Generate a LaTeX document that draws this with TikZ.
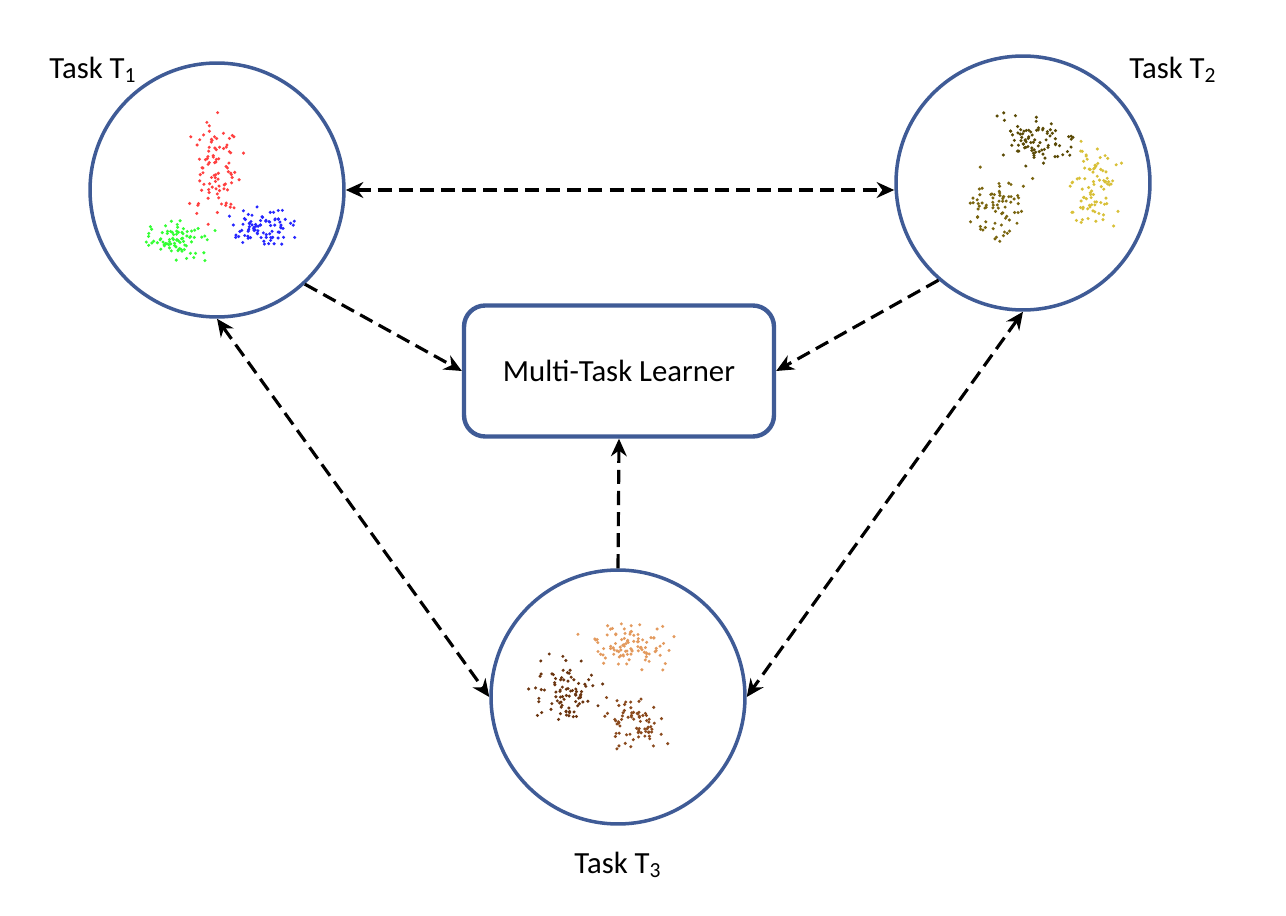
\documentclass[tikz,border=0pt]{standalone}
\usepackage{fontspec}
\setmainfont{Carlito}
\usetikzlibrary{arrows.meta}
\definecolor{cblue}{HTML}{3F5B96}
\definecolor{dolive}{HTML}{5A4A05}
\definecolor{molive}{HTML}{7A6510}
\definecolor{mustard}{HTML}{D8C038}
\definecolor{lorange}{HTML}{E39A5E}
\definecolor{dbrown}{HTML}{6B3510}
\definecolor{mbrown}{HTML}{8A4A1E}
\newcommand\mtlclust[6]{%
  \foreach \i in {1,...,#5}{%
    \pgfmathsetmacro\dx{(rand+rand+rand)*#3*0.6}%
    \pgfmathsetmacro\dy{(rand+rand+rand)*#4*0.6}%
    \fill[#6] ({#1+\dx},{#2+\dy}) circle (1.7);
  }}
\begin{document}
\begin{tikzpicture}[x=0.02cm,y=-0.02cm,
  task/.style={circle,draw=cblue,line width=2pt,minimum size=5.08cm,inner sep=0pt},
  lab/.style={font=\fontsize{17.5}{21}\selectfont},
  con/.style={line width=1.8pt,dash pattern=on 8pt off 4pt,-{Stealth[length=10pt,width=9pt]}},
  bcon/.style={con,{Stealth[length=10pt,width=9pt]}-{Stealth[length=10pt,width=9pt]}}]
\useasboundingbox (0,0) rectangle (1286,916);
\pgfmathsetseed{7}
\node[task] (c1) at (217,190) {};
\node[task] (c2) at (1023,183) {};
\node[task] (c3) at (618,697) {};
\node[draw=cblue,line width=2.5pt,rounded corners=12pt,minimum width=6.2cm,minimum height=2.62cm,lab] (box) at (619,371) {Multi-Task Learner};
\node[lab] (l1) at (93,70) {Task T\textsubscript{1}};
\node[lab] (l2) at (1173,70) {Task T\textsubscript{2}};
\node[lab] (l3) at (618,865) {Task T\textsubscript{3}};
% scatter
\mtlclust{215}{165}{20}{40}{90}{red!75!white}
\mtlclust{180}{238}{26}{16}{80}{green!80!white}
\mtlclust{262}{228}{26}{15}{85}{blue!85!white}
\mtlclust{1035}{138}{32}{20}{85}{dolive}
\mtlclust{1000}{205}{24}{24}{75}{molive}
\mtlclust{1095}{190}{20}{32}{85}{mustard}
\mtlclust{630}{648}{32}{18}{95}{lorange}
\mtlclust{565}{690}{24}{27}{85}{dbrown}
\mtlclust{635}{725}{24}{22}{75}{mbrown}
% connectors
\draw[bcon] (c1.east) -- (c2.west |- c1.east);
\draw[con] (c1.-47) -- (box.west);
\draw[con] (c2.-131) -- (box.east);
\draw[con] (c3.north) -- (box.south);
\draw[bcon] (c1.south) -- (c3.west);
\draw[bcon] (c2.south) -- (c3.east);
\end{tikzpicture}
\end{document}
